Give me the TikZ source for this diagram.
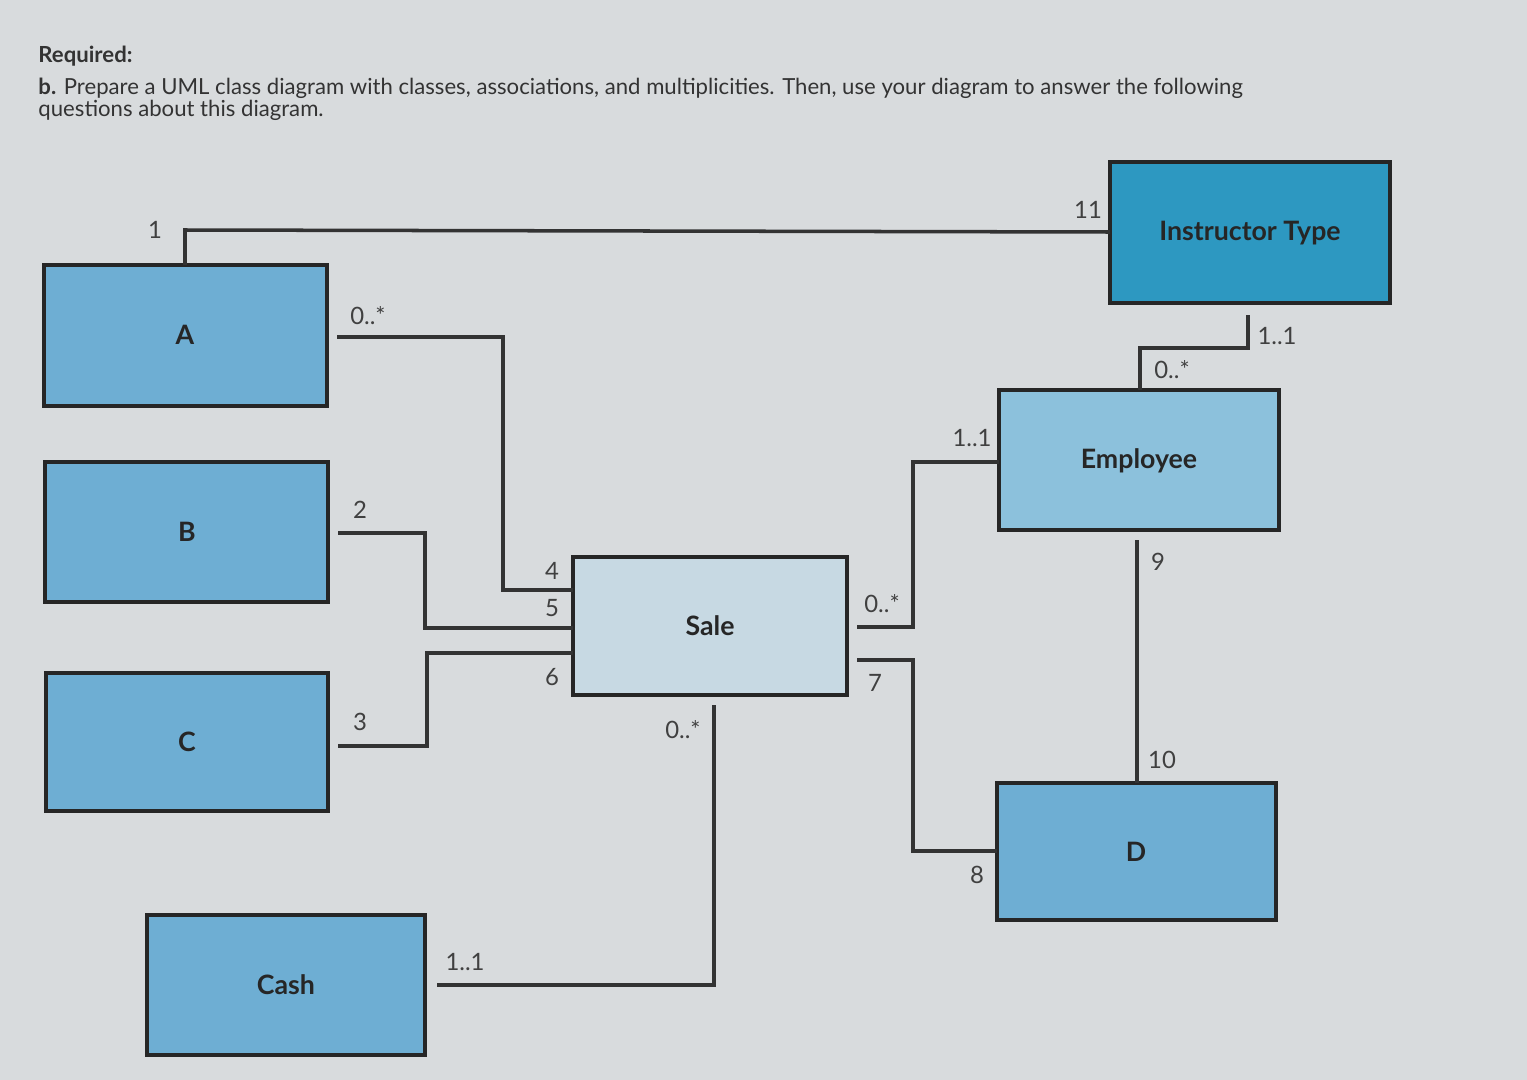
\documentclass[tikz,border=0pt]{standalone}
\usepackage{fontspec}
\setmainfont{Lato}
\begin{document}
\begin{tikzpicture}[x=0.05cm,y=-0.05cm,
 box/.style={draw=black!85,line width=6.5pt,fill=boxA,inner sep=0pt},
 conn/.style={draw=black!80,line width=5pt},
 lab/.style={font=\fontsize{34}{36}\selectfont,text=black!75},
 title/.style={font=\fontsize{38}{40}\selectfont\bfseries,text=black!85}]
\definecolor{boxA}{HTML}{6EAED3}
\definecolor{saleC}{HTML}{C7D9E3}
\definecolor{instC}{HTML}{2D98C1}
\definecolor{empC}{HTML}{8CC1DC}
\definecolor{bgC}{HTML}{D8DBDD}
\fill[bgC] (0,0) rectangle (1527,1080);
\useasboundingbox (0,0) rectangle (1527,1080);
% header
\node[anchor=base west,font=\fontsize{31.5}{33}\selectfont\bfseries,text=black!80] (h1) at (36,62) {Required:};
\node[anchor=base west,font=\fontsize{31.5}{33}\selectfont,text=black!80] (h2) at (36,94) {\textbf{b.} Prepare a UML class diagram with classes, associations, and multiplicities. Then, use your diagram to answer the following};
\node[anchor=base west,font=\fontsize{31.5}{33}\selectfont,text=black!80] (h3) at (36,116) {questions about this diagram.};
% boxes
\draw[box] (44,265) rectangle (327,406); \node[title] (A) at (185,335) {A};
\draw[box] (45,462) rectangle (328,602); \node[title] (B) at (187,532) {B};
\draw[box] (46,673) rectangle (328,811); \node[title] (C) at (187,742) {C};
\draw[box] (147,915) rectangle (425,1055); \node[title] (Cash) at (286,985) {Cash};
\draw[box,fill=saleC] (573,557) rectangle (847,695); \node[title] (Sale) at (710,626) {Sale};
\draw[box,fill=instC] (1110,162) rectangle (1390,303); \node[title] (IT) at (1250,233) {Instructor Type};
\draw[box,fill=empC] (999,390) rectangle (1279,530); \node[title] (Emp) at (1139,461) {Employee};
\draw[box] (997,783) rectangle (1276,920); \node[title] (D) at (1136,852) {D};
% connectors
\coordinate (a1) at (185,265); \coordinate (i1) at (1110,232);
\draw[conn] (a1) -- (185,230) -- (i1);
\coordinate (a2) at (337,337); \coordinate (s1) at (573,590);
\draw[conn] (a2) -- (503,337) -- (503,590) -- (s1);
\coordinate (b1) at (338,533); \coordinate (s2) at (573,628);
\draw[conn] (b1) -- (425,533) -- (425,628) -- (s2);
\coordinate (c1) at (338,746); \coordinate (s3) at (573,653);
\draw[conn] (c1) -- (427,746) -- (427,653) -- (s3);
\coordinate (s4) at (857,627); \coordinate (e1) at (999,462);
\draw[conn] (s4) -- (913,627) -- (913,462) -- (e1);
\coordinate (s5) at (857,660); \coordinate (d1) at (997,851);
\draw[conn] (s5) -- (913,660) -- (913,851) -- (d1);
\coordinate (k1) at (437,985); \coordinate (s6) at (714,705);
\draw[conn] (k1) -- (714,985) -- (s6);
\coordinate (e2) at (1140,390); \coordinate (i2) at (1248,315);
\draw[conn] (e2) -- (1140,348) -- (1248,348) -- (i2);
\coordinate (e3) at (1137,540); \coordinate (d2) at (1137,783);
\draw[conn] (e3) -- (d2);
% labels
\node[lab] (l1) at (155,230) {1};
\node[lab] (l2) at (368,316) {0..*};
\node[lab] (l3) at (360,510) {2};
\node[lab] (l4) at (360,722) {3};
\node[lab] (l5) at (552,571) {4};
\node[lab] (l6) at (552,608) {5};
\node[lab] (l7) at (552,677) {6};
\node[lab] (l8) at (882,604) {0..*};
\node[lab] (l9) at (875,683) {7};
\node[lab] (l10) at (972,438) {1..1};
\node[lab] (l11) at (977,875) {8};
\node[lab] (l12) at (1158,562) {9};
\node[lab] (l13) at (1162,760) {10};
\node[lab] (l14) at (1172,370) {0..*};
\node[lab] (l15) at (1277,336) {1..1};
\node[lab] (l16) at (1088,210) {11};
\node[lab] (l17) at (683,730) {0..*};
\node[lab] (l18) at (465,962) {1..1};
\end{tikzpicture}
\end{document}
